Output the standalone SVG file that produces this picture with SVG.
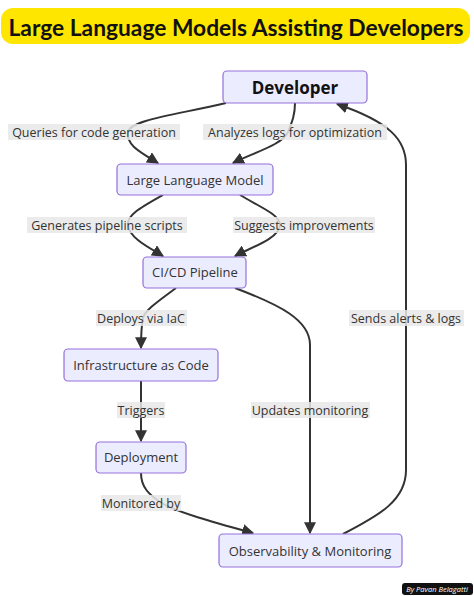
<svg xmlns="http://www.w3.org/2000/svg" width="474" height="596" viewBox="0 0 474 596">
<style>
.node rect{fill:#ECECFF;stroke:#9370DB;stroke-width:1.2}
.node text{font-family:"Open Sans","DejaVu Sans",sans-serif;font-size:13px;fill:#333;text-anchor:middle;dominant-baseline:central}
.node text.big{font-size:17px;font-weight:bold;fill:#111}
.edge{fill:none;stroke:#333;stroke-width:2}
.lbl rect{fill:#e8e8e8;opacity:0.85}
.lbl text{font-family:"Open Sans","DejaVu Sans",sans-serif;font-size:12.5px;fill:#333;text-anchor:middle;dominant-baseline:central}
</style>
<defs>
<marker id="arr" viewBox="0 0 10 10" refX="9" refY="5" markerWidth="12" markerHeight="12" markerUnits="userSpaceOnUse" orient="auto">
<path d="M0,0 L10,5 L0,10 z" fill="#333"/>
</marker>
</defs>
<rect x="0" y="0" width="474" height="596" fill="#fff"/>
<g id="title">
<rect x="1" y="8" width="469" height="36" rx="12" fill="#FFE600"/>
<text x="236" y="27" font-family="Lato,'Open Sans',sans-serif" font-weight="bold" font-size="22.5" fill="#111" text-anchor="middle" dominant-baseline="central" textLength="455" lengthAdjust="spacingAndGlyphs">Large Language Models Assisting Developers</text>
</g>
<g id="connectors">
<path class="edge" d="M226,103 C175,115 130,120 128,132 C126,145 140,152 158,163" marker-end="url(#arr)"/>
<path class="edge" d="M295,103 C295,115 292,122 288,132 C282,145 255,152 233,163" marker-end="url(#arr)"/>
<path class="edge" d="M163,195 C140,208 127,215 128,225 C129,238 150,248 163,256" marker-end="url(#arr)"/>
<path class="edge" d="M240,195 C262,208 280,215 280,225 C280,238 250,248 235,256" marker-end="url(#arr)"/>
<path class="edge" d="M176,288 C160,300 145,310 143,318 C141,328 141,335 141,348" marker-end="url(#arr)"/>
<path class="edge" d="M141,381 L141,441" marker-end="url(#arr)"/>
<path class="edge" d="M141,473 C141,488 150,495 160,502 C175,512 220,524 253,533" marker-end="url(#arr)"/>
<path class="edge" d="M235,288 C280,305 310,320 310,345 L310,533" marker-end="url(#arr)"/>
<path class="edge" d="M343,534 C380,515 406,500 406,470 L406,165 C406,140 390,122 337,104" marker-end="url(#arr)"/>
<g class="lbl"><rect x="8" y="124" width="172" height="16"/><text x="94" y="132">Queries for code generation</text></g>
<g class="lbl"><rect x="203" y="124" width="184" height="16"/><text x="295" y="132">Analyzes logs for optimization</text></g>
<g class="lbl"><rect x="27" y="217" width="160" height="16"/><text x="107" y="225">Generates pipeline scripts</text></g>
<g class="lbl"><rect x="233" y="217" width="142" height="16"/><text x="304" y="225">Suggests improvements</text></g>
<g class="lbl"><rect x="96" y="310" width="91" height="16"/><text x="141" y="318">Deploys via IaC</text></g>
<g class="lbl"><rect x="349" y="310" width="115" height="16"/><text x="406" y="318">Sends alerts &amp; logs</text></g>
<g class="lbl"><rect x="117" y="402" width="48" height="16"/><text x="141" y="410">Triggers</text></g>
<g class="lbl"><rect x="251" y="402" width="119" height="16"/><text x="310" y="410">Updates monitoring</text></g>
<g class="lbl"><rect x="101" y="495" width="80" height="16"/><text x="141" y="503">Monitored by</text></g>
</g>
<g id="developer" class="node"><rect x="223" y="71" width="144" height="32" rx="4"/><text class="big" x="295" y="87">Developer</text></g>
<g id="llm" class="node"><rect x="117" y="164" width="156" height="31" rx="4"/><text x="195" y="180">Large Language Model</text></g>
<g id="cicd" class="node"><rect x="143" y="257" width="103" height="31" rx="4"/><text x="195" y="272">CI/CD Pipeline</text></g>
<g id="iac" class="node"><rect x="64" y="349" width="154" height="32" rx="4"/><text x="141" y="365">Infrastructure as Code</text></g>
<g id="deployment" class="node"><rect x="96" y="442" width="90" height="31" rx="4"/><text x="141" y="457">Deployment</text></g>
<g id="observability" class="node"><rect x="219" y="534" width="183" height="33" rx="4"/><text x="310" y="551">Observability &amp; Monitoring</text></g>
<g id="watermark">
<rect x="402" y="583" width="71" height="12" rx="3" fill="#111"/>
<text x="437" y="589" font-family="'Open Sans',sans-serif" font-style="italic" font-size="7.5" fill="#fff" text-anchor="middle" dominant-baseline="central">By Pavan Belagatti</text>
</g>
</svg>
